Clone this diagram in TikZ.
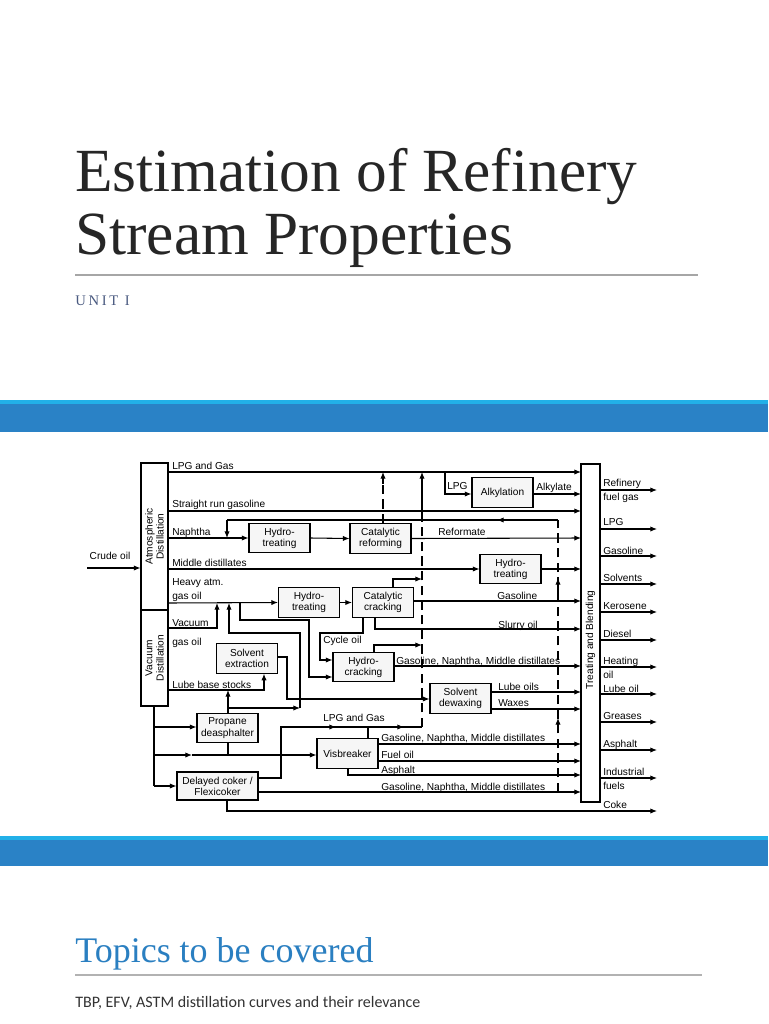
\documentclass[tikz,border=0pt]{standalone}
\usepackage{fontspec}
\setmainfont{Liberation Serif}
\newfontfamily\dsans{Liberation Sans}
\newfontfamily\carl{Carlito}
\usetikzlibrary{arrows.meta}
\definecolor{bandblue}{HTML}{2A82C6}
\definecolor{bandlight}{HTML}{22B0E8}
\definecolor{topicblue}{HTML}{2A7FC1}
\definecolor{unitcol}{HTML}{4A5A80}
\begin{document}
\begin{tikzpicture}[x=0.75pt,y=-0.75pt,
  ln/.style={line width=0.8pt},
  ar/.style={ln,-{Latex[length=5pt,width=4pt]}},
  dsh/.style={ln,dash pattern=on 7pt off 4pt},
  box/.style={draw,line width=0.8pt,fill=gray!7,inner sep=0pt,align=center,font=\dsans\fontsize{7.6}{8.4}\selectfont,minimum width=45.75pt,minimum height=22pt},
  lab/.style={font=\dsans\fontsize{7.6}{10.5}\selectfont,inner sep=0pt,anchor=base west,align=left}]
\useasboundingbox (0,0) rectangle (768,1024);
\fill[white] (0,0) rectangle (768,1024);
% title
\node[anchor=base west,inner sep=0pt,font=\fontsize{46}{46}\selectfont,text=black!85] (t1) at (75,191) {Estimation of Refinery};
\node[anchor=base west,inner sep=0pt,font=\fontsize{46}{46}\selectfont,text=black!85] (t2) at (75,254) {Stream Properties};
\draw[gray!70,line width=0.8pt] (75,275) -- (698,275);
\node[anchor=base west,inner sep=0pt,font=\fontsize{11}{11}\selectfont,text=unitcol] (unit) at (75,305) {U\kern2pt N\kern2pt I\kern2pt T\kern5pt I};
% bands
\fill[bandblue] (0,400) rectangle (768,432);
\fill[bandlight] (0,400) rectangle (768,404);
\fill[bandblue] (0,836) rectangle (768,866);
\fill[bandlight] (0,836) rectangle (768,840);
\node[anchor=base west,inner sep=0pt,font=\fontsize{27}{27}\selectfont,text=topicblue] (topics) at (75,962) {Topics to be covered};
\draw[gray!60,line width=0.8pt] (75,975) -- (702,975);
\node[anchor=base west,inner sep=0pt,font=\carl\fontsize{12}{12}\selectfont,text=black!80] (tbp) at (75,1007) {TBP, EFV, ASTM distillation curves and their relevance};

% ---------- diagram ----------
\node[draw,line width=0.8pt,minimum width=20.25pt,minimum height=110.25pt,inner sep=0pt] (atm) at (154.5,536.5) {};
\node[rotate=90,font=\dsans\fontsize{7.6}{8.4}\selectfont,align=center] at (atm.center) {Atmospheric\\Distillation};
\node[draw,line width=0.8pt,minimum width=20.25pt,minimum height=72pt,inner sep=0pt] (vac) at (154.5,658) {};
\node[rotate=90,font=\dsans\fontsize{7.6}{8.4}\selectfont,align=center] at (vac.center) {Vacuum\\Distillation};
\node[draw,line width=0.8pt,minimum width=14.25pt,minimum height=253.5pt,inner sep=0pt] (tb) at (590.5,633) {};
\node[rotate=90,font=\dsans\fontsize{7.6}{8.4}\selectfont] at (590.5,640) {Treating and Blending};

\node[box] (ht1) at (279.5,538) {Hydro-\\treating};
\node[box] (cr) at (380.5,538.5) {Catalytic\\reforming};
\node[box] (alk) at (502.5,492.5) {Alkylation};
\node[box] (ht3) at (510.5,569) {Hydro-\\treating};
\node[box] (ht2) at (309,602.5) {Hydro-\\treating};
\node[box] (cc) at (383,602.5) {Catalytic\\cracking};
\node[box] (hc) at (363.5,667) {Hydro-\\cracking};
\node[box] (se) at (247,658.5) {Solvent\\extraction};
\node[box] (sd) at (460.5,698.5) {Solvent\\dewaxing};
\node[box] (pd) at (227.5,728) {Propane\\deasphalter};
\node[box] (vb) at (347.5,753.5) {Visbreaker};
\node[box,minimum width=60.75pt,minimum height=21pt] (dc) at (217.5,786) {Delayed coker /\\Flexicoker};

% crude
\coordinate (crude) at (87,568);
\draw[ar] (crude) -- (crude -| atm.west);
\node[lab,anchor=base] at (110,559) {Crude oil};

% atmospheric streams
\draw[ar] (168,472) -- (581,472);
\node[lab] at (172,469) {LPG and Gas};
\draw[ar] (168,511) -- (581,511);
\node[lab] at (172,507) {Straight run gasoline};
\draw[ar] (168,538) -- (ht1.west);
\node[lab] at (172,535) {Naphtha};
\draw[ar] (ht1.east) -- (cr.west);
\draw[ar] (cr.east) -- (581,538);
\node[lab] at (438,535) {Reformate};
\draw[ar] (168,569) -- (ht3.west);
\draw[ar] (ht3.east) -- (581,569);
\node[lab] at (172,566) {Middle distillates};
\node[lab] at (172,599) {Heavy atm.\\gas oil};
\draw[ar] (168,603) -- (ht2.west);
\draw[ar] (ht2.east) -- (cc.west);
% alkylation
\draw[ar] (445,472) -- (445,494) -- (alk.west|-0,494);
\node[lab] at (447,489) {LPG};
\draw[ar] (alk.east|-0,494) -- (581,494);
\node[lab] at (536,490) {Alkylate};
% H2 recycle
\draw[ln] (558,520) -- (227,520);
\draw[ar] (558,520) -- (497,520);
\draw[ar] (227,520) -- (227,538);
\draw[dsh] (558,792) -- (558,520);
\draw[ar] (558,592) -- (558,578);
\draw[ar] (558,732) -- (558,718);
% gas collector verticals
\draw[dsh] (383,0 |- cr.north) -- (383,480);
\draw[ar] (383,484) -- (383,472);
\draw[ln] (422,520) -- (422,480);
\draw[ar] (422,484) -- (422,472);
\draw[dsh] (422,727) -- (422,520);
% cat cracking outputs
\draw[ar] (393,0 |- cc.north) -- (393,579) -- (422,579);
\draw[ar] (cc.east|-0,601) -- (581,601);
\node[lab] at (497,599) {Gasoline};
\draw[ar] (375,0 |- cc.south) -- (375,629) -- (581,629);
\node[lab] at (498,628) {Slurry oil};
\draw[ar] (363,0 |- cc.south) -- (363,633) -- (320,633) -- (320,660) -- (hc.west|-0,660);
\node[lab] at (323,643) {Cycle oil};
\draw[ar] (240,603) -- (240,620) -- (309,620) -- (309,677) -- (hc.west|-0,677);
\draw[ar] (374,0 |- hc.north) -- (374,645) -- (422,645);
\draw[ar] (hc.east|-0,666) -- (581,666);
\node[lab] at (396,664) {Gasoline, Naphtha, Middle distillates};
% vacuum gas oil
\node[lab] at (172,626) {Vacuum};
\node[lab] at (172,645) {gas oil};
\draw[ar] (168,628) -- (217,628) -- (217,603);
\draw[ar] (300,708) -- (300,633) -- (229,633) -- (229,603);
% lube
\draw[ar] (168,690) -- (264,690) -- (264,0 |- se.south);
\node[lab] at (172,688) {Lube base stocks};
\draw[ar] (se.east|-0,657) -- (287,657) -- (287,699) -- (sd.west|-0,699);
\draw[ar] (sd.east|-0,692) -- (581,692);
\node[lab] at (498,690) {Lube oils};
\draw[ar] (sd.east|-0,709) -- (581,709);
\node[lab] at (498,706) {Waxes};
% deasphalter
\draw[ar] (228,0 |- pd.north) -- (228,690);
\draw[ar] (228,708) -- (300,708);
\draw[ln] (228,0 |- pd.south) -- (228,755);
% vacuum bottoms
\draw[ln] (154,0 |- vac.south) -- (154,786);
\draw[ar] (154,727) -- (pd.west|-0,727);
\draw[ar] (154,755) -- (192,755);
\draw[ar] (192,755) -- (vb.west|-0,755);
\draw[ar] (154,786) -- (dc.west|-0,786);
% LPG and gas from coker / visbreaker
\draw[ln] (dc.east|-0,778) -- (281,778) -- (281,727) -- (422,727);
\draw[ar] (300,727) -- (336,727);
\draw[ar] (340,727) -- (404,727);
\draw[ln] (368,0 |- vb.north) -- (368,727);
\node[lab] at (323,721) {LPG and Gas};
% visbreaker outputs
\draw[ar] (vb.east|-0,744) -- (581,744);
\node[lab] at (381,741) {Gasoline, Naphtha, Middle distillates};
\draw[ar] (vb.east|-0,761) -- (581,761);
\node[lab] at (381,758) {Fuel oil};
\draw[ar] (348,0 |- vb.south) -- (348,775) -- (581,775);
\node[lab] at (381,773) {Asphalt};
\draw[ar] (dc.east|-0,792) -- (581,792);
\node[lab] at (381,790) {Gasoline, Naphtha, Middle distillates};
\draw[ar] (227,0 |- dc.south) -- (227,811) -- (657,811);
\node[lab] at (603,808) {Coke};
% products
\foreach \yy in {490,529,556,584,612,640,667,694,722,750,778}{
  \draw[ar] (600,\yy) -- (657,\yy);
}
\node[lab] at (603,486) {Refinery};
\node[lab] at (603,500) {fuel gas};
\node[lab] at (603,525) {LPG};
\node[lab] at (603,554) {Gasoline};
\node[lab] at (603,581) {Solvents};
\node[lab] at (603,609) {Kerosene};
\node[lab] at (603,637) {Diesel};
\node[lab] at (603,664) {Heating};
\node[lab] at (603,678) {oil};
\node[lab] at (603,692) {Lube oil};
\node[lab] at (603,719) {Greases};
\node[lab] at (603,747) {Asphalt};
\node[lab] at (603,775) {Industrial};
\node[lab] at (603,789) {fuels};
\end{tikzpicture}
\end{document}
